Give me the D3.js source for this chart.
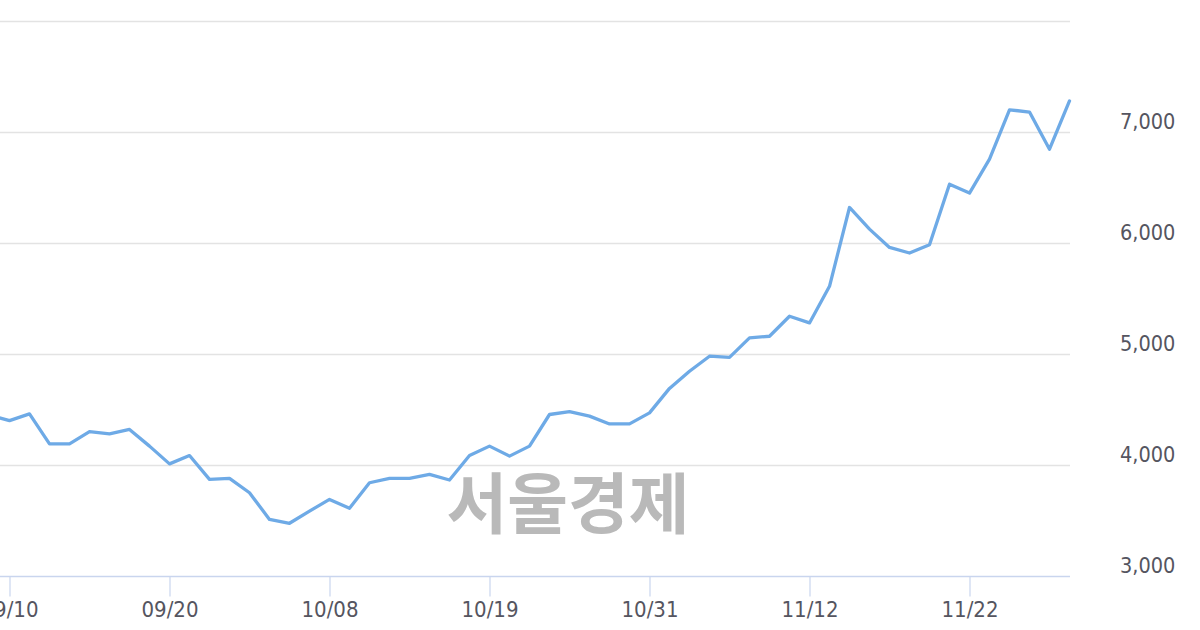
<!DOCTYPE html>
<html>
<head>
<meta charset="utf-8">
<script src="https://cdn.jsdelivr.net/npm/d3@7/dist/d3.min.js"></script>
<style>
  html, body { margin: 0; padding: 0; background: #ffffff; }
  svg { display: block; }
</style>
</head>
<body>
<script>
// ---- data ----
const dates = [
  "09/07",
  "09/10","09/11","09/12","09/13","09/14","09/17","09/18","09/19","09/20",
  "09/21","09/27","09/28","10/01","10/02","10/04","10/05","10/08",
  "10/10","10/11","10/12","10/15","10/16","10/17","10/18","10/19",
  "10/22","10/23","10/24","10/25","10/26","10/29","10/30","10/31",
  "11/01","11/02","11/05","11/06","11/07","11/08","11/09","11/12",
  "11/13","11/14","11/15","11/16","11/19","11/20","11/21","11/22",
  "11/23","11/26","11/27","11/28","11/29"
];
const prices = [
  4450,
  4400,4460,4190,4190,4300,4280,4320,4170,4010,
  4085,3870,3880,3750,3510,3475,3585,3690,
  3610,3840,3880,3880,3915,3865,4085,4170,
  4080,4170,4455,4480,4440,4370,4370,4470,
  4690,4845,4980,4970,5145,5160,5340,5280,
  5610,6320,6125,5960,5910,5985,6530,6450,
  6755,7200,7180,6845,7280
];
const xTickDates = ["09/10","09/20","10/08","10/19","10/31","11/12","11/22"];
const gridValues = [3000,4000,5000,6000,7000,8000];
const yTickValues = [3000,4000,5000,6000,7000];
const watermark = "서울경제";

// ---- chart ----
const W = 1200, H = 630;
const svg = d3.select("body").append("svg").attr("width", W).attr("height", H);

const plotRight = 1070;
const x = d3.scaleLinear().domain([0, dates.length - 1]).range([-10.5, 1069.5]);
const y = d3.scaleLinear().domain([3000, 8000]).range([576, 21]);

// gridlines
svg.append("g").selectAll("line").data(gridValues.filter(v => v !== 3000)).join("line")
  .attr("x1", 0).attr("x2", plotRight)
  .attr("y1", d => Math.round(y(d)) + 0.5).attr("y2", d => Math.round(y(d)) + 0.5)
  .attr("stroke", "#e3e3e3").attr("stroke-width", 1.3);

// bottom axis with ticks
const xAxis = d3.axisBottom(x)
  .tickValues(xTickDates.map(d => dates.indexOf(d)))
  .tickFormat(i => dates[i])
  .tickSize(20)
  .tickSizeOuter(0)
  .tickPadding(4);
const gx = svg.append("g").attr("transform", "translate(0,576.5)").call(xAxis);
gx.select(".domain").remove();
gx.append("line").attr("x1", 0).attr("x2", plotRight).attr("y1", 0).attr("y2", 0)
  .attr("stroke", "#c9d5ee").attr("stroke-width", 1.5);
gx.selectAll(".tick line").attr("stroke", "#c9d5ee").attr("stroke-width", 1.2);
gx.selectAll(".tick text")
  .attr("fill", "#555560")
  .attr("y", 0).attr("dy", null)
  .attr("transform", "translate(0,40.5)")
  .style("font-family", "'DejaVu Sans Condensed', 'DejaVu Sans', sans-serif")
  .style("font-stretch", "condensed")
  .style("font-size", "22px");

// right-side y labels
const yAxis = d3.axisRight(y).tickValues(yTickValues).tickFormat(d3.format(",")).tickSize(0);
const gy = svg.append("g").attr("transform", "translate(1120,0)").call(yAxis);
gy.select(".domain").remove();
gy.selectAll(".tick text")
  .attr("x", 0).attr("dy", null).attr("y", -4)
  .attr("text-anchor", "start")
  .attr("fill", "#555560")
  .style("font-family", "'DejaVu Sans Condensed', 'DejaVu Sans', sans-serif")
  .style("font-stretch", "condensed")
  .style("font-size", "21.5px");

// price line
const line = d3.line().x((d, i) => x(i)).y(d => y(d));
svg.append("path").datum(prices)
  .attr("d", line)
  .attr("fill", "none")
  .attr("stroke", "#6eaae6")
  .attr("stroke-width", 3.3)
  .attr("stroke-linejoin", "round")
  .attr("stroke-linecap", "round");

// watermark
svg.append("text")
  .attr("x", 568).attr("y", 528)
  .attr("text-anchor", "middle")
  .attr("fill", "#b9b9b9")
  .style("font-family", "'Noto Sans CJK KR', sans-serif")
  .style("font-weight", "bold")
  .style("font-size", "66px")
  .text(watermark);
</script>
</body>
</html>
